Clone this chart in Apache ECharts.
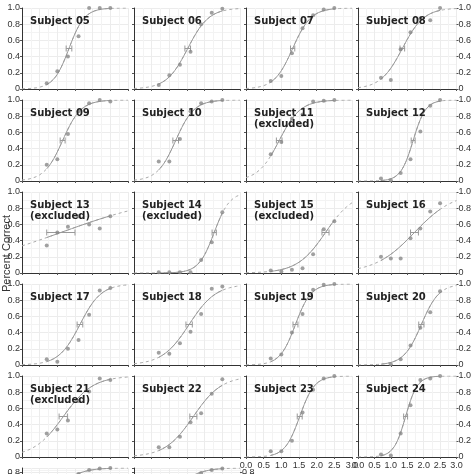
<!DOCTYPE html>
<html><head><meta charset="utf-8">
<script src="https://cdn.jsdelivr.net/npm/echarts@6/dist/echarts.min.js"></script>
<style>html,body{margin:0;padding:0;background:#fff}#c{width:474px;height:474px}</style>
</head><body><div id="c"></div>
<script>
const subjects = ['05','06','07','08','09','10','11','12','13','14','15','16','17','18','19','20','21','22','23','24','25','26'];
const excluded = ['11','13','14','15','21'];
const xLevels = [0.7,1.0,1.3,1.6,1.9,2.2,2.5];
const yValues = {
 '05':[.07,.22,.40,.65,1.0,1.0,1.0],
 '06':[.05,.17,.30,.46,.80,.94,.99],
 '07':[.10,.16,.44,.75,.91,.98,1.0],
 '08':[.14,.11,.49,.70,.87,.85,1.0],
 '09':[.20,.27,.58,.86,.96,1.0,.98],
 '10':[.24,.24,.52,.86,.96,.98,1.0],
 '11':[.33,.48,.77,.82,.98,.99,1.0],
 '12':[.03,.01,.10,.27,.61,.93,1.0],
 '13':[.34,.50,.57,.70,.60,.55,.70],
 '14':[.01,.01,.01,.01,.16,.38,.75],
 '15':[.03,.02,.04,.06,.23,.54,.64],
 '16':[.20,.18,.18,.43,.55,.76,.86],
 '17':[.07,.04,.20,.31,.62,.92,.95],
 '18':[.15,.14,.27,.41,.63,.94,.97],
 '19':[.08,.13,.40,.63,.93,.99,1.0],
 '20':[-0.01,.01,.07,.24,.46,.65,.91],
 '21':[.29,.34,.45,.69,.81,.97,.95],
 '22':[.12,.12,.25,.43,.54,.78,.96],
 '23':[.07,.07,.20,.55,.83,.97,1.0],
 '24':[.03,.02,.29,.64,.95,.97,1.0],
 '25':[.05,.15,.40,.70,.90,.97,1.0],
 '26':[.04,.10,.25,.50,.75,.90,.98]
};
// fitted logistic threshold (mu), spread (s), threshold CI half-width
const fitMu = {'05':1.33,'06':1.52,'07':1.32,'08':1.35,'09':1.15,'10':1.18,'11':0.94,'12':1.68,'13':1.1,'14':2.27,'15':2.25,'16':1.72,'17':1.64,'18':1.56,'19':1.4,'20':1.93,'21':1.17,'22':1.68,'23':1.52,'24':1.45,'25':1.3,'26':1.5};
const fitS = {'05':.22,'06':.3,'07':.26,'08':.33,'09':.26,'10':.26,'11':.3,'12':.19,'13':1.6,'14':.22,'15':.4,'16':.6,'17':.3,'18':.38,'19':.22,'20':.27,'21':.42,'22':.4,'23':.21,'24':.18,'25':.3,'26':.3};
const ciHalf = {'05':.08,'06':.08,'07':.06,'08':.07,'09':.07,'10':.08,'11':.08,'12':.06,'13':.4,'14':.06,'15':.1,'16':.12,'17':.08,'18':.09,'19':.07,'20':.08,'21':.12,'22':.1,'23':.07,'24':.06,'25':.08,'26':.08};

const lefts=[22,134,246,358], tops=[8,100,192,284,376,468], W=106, H=81;
const grid=[], xAxis=[], yAxis=[], series=[], title=[];
const gcol='#999';
function logi(x,mu,s){return 1/(1+Math.exp(-(x-mu)/s));}
subjects.forEach((id,i)=>{
  const r=Math.floor(i/4), c=i%4;
  const L=lefts[c], T=tops[r];
  grid.push({left:L,top:T,width:W,height:H});
  const showX = (r===4 && c>=2);
  xAxis.push({gridIndex:i,type:'value',min:0,max:3,interval:0.5,
    axisLine:{lineStyle:{color:'#333'}},axisTick:{length:2,lineStyle:{color:'#555'}},
    axisLabel:{show:showX,fontSize:9,color:'#333',fontFamily:'Liberation Sans',formatter:v=>v.toFixed(1),margin:4},
    splitLine:{lineStyle:{color:'#ececec'}},minorTick:{show:false,splitNumber:2},minorSplitLine:{show:true,lineStyle:{color:'#f3f3f3'}}});
  const isRight = (c===3) || (i===subjects.length-1);
  const yb={gridIndex:i,type:'value',min:0,max:1,interval:0.2,
    axisLine:{show:true,lineStyle:{color:'#333'}},axisTick:{show:true,length:2,lineStyle:{color:'#555'}},
    axisLabel:{show:c===0,fontSize:9,color:'#333',fontFamily:'Liberation Sans',margin:2,formatter:v=>v===0?'0':v.toFixed(1)},
    splitLine:{lineStyle:{color:'#ececec'}},minorTick:{show:false,splitNumber:2},minorSplitLine:{show:true,lineStyle:{color:'#f3f3f3'}}};
  yAxis.push(yb);
  const yIdx=yAxis.length-1;
  if(isRight){
    yAxis.push({gridIndex:i,type:'value',min:0,max:1,interval:0.2,position:'right',
      axisLine:{show:false},axisTick:{show:true,length:2,lineStyle:{color:'#555'}},splitLine:{show:false},
      axisLabel:{fontSize:9,color:'#333',fontFamily:'Liberation Sans',margin:2,formatter:v=>v===0?'0':v.toFixed(1)}});
  }
  const mu=fitMu[id], s=fitS[id];
  const full=[], solid=[];
  for(let k=0;k<=60;k++){const x=k*0.05;const y=logi(x,mu,s);full.push([x,y]);
    if(x>=xLevels[0]-1e-9 && x<=xLevels[xLevels.length-1]+1e-9) solid.push([x,y]);}
  series.push({type:'line',xAxisIndex:i,yAxisIndex:yIdx,data:full,showSymbol:false,silent:true,
    lineStyle:{color:'#aaa',width:1,type:[3,3]},z:2});
  series.push({type:'line',xAxisIndex:i,yAxisIndex:yIdx,data:solid,showSymbol:false,silent:true,
    lineStyle:{color:gcol,width:1},z:3});
  series.push({type:'line',xAxisIndex:i,yAxisIndex:yIdx,data:[[mu-ciHalf[id],0.5],[mu+ciHalf[id],0.5]],
    symbol:'rect',symbolSize:[1,6],itemStyle:{color:gcol},lineStyle:{color:gcol,width:1},silent:true,z:4});
  series.push({type:'scatter',xAxisIndex:i,yAxisIndex:yIdx,data:xLevels.map((x,k)=>[x,yValues[id][k]]),
    symbolSize:4,itemStyle:{color:'#888'},z:5});
  title.push({text:'Subject '+id+(excluded.includes(id)?'\n(excluded)':''),left:L+3,top:T+3,
    textStyle:{fontSize:10,fontWeight:'bold',color:'#222',fontFamily:'DejaVu Sans',lineHeight:11}});
});
const chart=echarts.init(document.getElementById('c'));
chart.setOption({animation:false,title,grid,xAxis,yAxis,series,
  graphic:[{type:'text',left:1,top:215,rotation:Math.PI/2,style:{text:'Percent Correct',fontSize:11,fill:'#333',fontFamily:'Liberation Sans'}}]});
</script></body></html>
